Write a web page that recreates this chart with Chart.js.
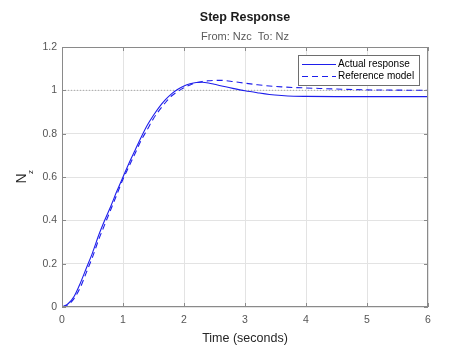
<!DOCTYPE html>
<html>
<head>
<meta charset="utf-8">
<script src="https://cdn.jsdelivr.net/npm/chart.js@4.4.1/dist/chart.umd.min.js"></script>
<style>
html,body{margin:0;padding:0;background:#fff;}
#wrap{width:474px;height:355px;}
</style>
</head>
<body>
<div id="wrap"><canvas id="c" width="474" height="355"></canvas></div>
<script>
// ---- data ----
const timeActual = [0,0.1,0.2,0.3,0.4,0.5,0.6,0.7,0.8,0.9,1.0,1.1,1.2,1.3,1.4,1.5,1.6,1.7,1.8,1.9,2.0,2.1,2.2,2.3,2.4,2.5,2.6,2.8,3.0,3.2,3.4,3.6,3.8,4.0,4.5,5.0,5.5,6.0];
const actualResponse = [0,0.015,0.05,0.11,0.18,0.25,0.33,0.40,0.465,0.535,0.60,0.665,0.725,0.785,0.84,0.885,0.925,0.958,0.985,1.005,1.02,1.03,1.036,1.037,1.034,1.028,1.021,1.009,0.998,0.989,0.981,0.976,0.973,0.972,0.971,0.971,0.971,0.971];
const timeRef = [0,0.1,0.2,0.3,0.4,0.5,0.6,0.7,0.8,0.9,1.0,1.1,1.2,1.3,1.4,1.5,1.6,1.7,1.8,1.9,2.0,2.1,2.2,2.3,2.4,2.5,2.6,2.8,3.0,3.2,3.4,3.6,3.8,4.0,4.5,5.0,5.5,6.0];
const referenceModel = [0,0.01,0.04,0.09,0.16,0.23,0.31,0.38,0.45,0.52,0.59,0.65,0.71,0.77,0.82,0.87,0.91,0.945,0.975,0.995,1.012,1.025,1.035,1.041,1.044,1.046,1.046,1.041,1.033,1.026,1.02,1.016,1.013,1.011,1.006,1.002,1.001,1.0];
const steadyTime = [0,6];
const steadyValue = [1,1];
const xTicks = [0,1,2,3,4,5,6];
const yTicks = [0,0.2,0.4,0.6,0.8,1,1.2];
const seriesNames = ['Actual response','Reference model'];
const titleText = 'Step Response';
const subtitleText = 'From: Nzc  To: Nz';
const xAxisText = 'Time (seconds)';
const yAxisMain = 'N';
const yAxisSub = 'z';

const FONT = "'Liberation Sans', Arial, Helvetica, sans-serif";
const BLUE = 'rgb(30,30,235)';
const FRAME = '#8a8a8a';

const pts = (xs, ys) => xs.map((x,i)=>({x:x,y:ys[i]}));

const decor = {
  id:'decor',
  afterDatasetsDraw(chart){
    const ctx = chart.ctx, a = chart.chartArea;
    const xs = chart.scales.x, ys = chart.scales.y;
    ctx.save();
    // frame
    ctx.strokeStyle = FRAME; ctx.lineWidth = 1;
    ctx.strokeRect(Math.round(a.left)+0.5, Math.round(a.top)+0.5, Math.round(a.right-a.left)-1, Math.round(a.bottom-a.top)-1);
    // inward tick marks
    ctx.beginPath();
    xTicks.forEach(v=>{
      const p = Math.round(xs.getPixelForValue(v))+0.5;
      ctx.moveTo(p,a.bottom); ctx.lineTo(p,a.bottom-4);
      ctx.moveTo(p,a.top); ctx.lineTo(p,a.top+4);
    });
    yTicks.forEach(v=>{
      const p = Math.round(ys.getPixelForValue(v))+0.5;
      ctx.moveTo(a.left,p); ctx.lineTo(a.left+4,p);
      ctx.moveTo(a.right,p); ctx.lineTo(a.right-4,p);
    });
    ctx.stroke();

    // legend
    const lx = 298, ly = 55, lw = 121, lh = 30;
    ctx.fillStyle = '#fff';
    ctx.fillRect(lx+0.5, ly+0.5, lw, lh);
    ctx.strokeStyle = '#6e6e6e';
    ctx.strokeRect(lx+0.5, ly+0.5, lw, lh);
    const rows = [ly+9.5, ly+21.5];
    chart.data.datasets.slice(0,2).forEach((ds,i)=>{
      ctx.strokeStyle = ds.borderColor; ctx.lineWidth = 1;
      ctx.setLineDash(ds.borderDash || []);
      ctx.beginPath(); ctx.moveTo(302, rows[i]); ctx.lineTo(336, rows[i]); ctx.stroke();
      ctx.setLineDash([]);
      ctx.fillStyle = '#000';
      ctx.font = '10px ' + FONT;
      ctx.textAlign = 'left'; ctx.textBaseline = 'middle';
      ctx.fillText(ds.label, 338, rows[i]);
    });

    // titles
    const cx = (a.left + a.right)/2;
    ctx.textAlign = 'center'; ctx.textBaseline = 'middle';
    ctx.fillStyle = '#1a1a1a';
    ctx.font = 'bold 12.5px ' + FONT;
    ctx.fillText(titleText, cx, 18);
    ctx.fillStyle = '#5a5a5a';
    ctx.font = '11px ' + FONT;
    ctx.fillText(subtitleText, cx, 37);
    ctx.fillStyle = '#262626';
    ctx.font = '12.5px ' + FONT;
    ctx.fillText(xAxisText, cx, 339);

    // y label with subscript
    ctx.translate(22.5, 178.5);
    ctx.rotate(-Math.PI/2);
    ctx.fillStyle = '#262626';
    ctx.font = '14px ' + FONT;
    ctx.textAlign = 'center'; ctx.textBaseline = 'middle';
    ctx.fillText(yAxisMain, 0, 0);
    ctx.font = '8px ' + FONT;
    ctx.textAlign = 'left'; ctx.textBaseline = 'alphabetic';
    ctx.fillText(yAxisSub, 4.5, 10.5);
    ctx.restore();
  }
};

new Chart(document.getElementById('c'), {
  type:'line',
  data:{
    datasets:[
      {label:seriesNames[0], data:pts(timeActual, actualResponse), borderColor:BLUE, borderWidth:1.1, pointRadius:0, cubicInterpolationMode:'monotone', fill:false, order:1},
      {label:seriesNames[1], data:pts(timeRef, referenceModel), borderColor:BLUE, borderWidth:1.1, borderDash:[6,4], pointRadius:0, cubicInterpolationMode:'monotone', fill:false, order:2},
      {label:'steady', data:pts(steadyTime, steadyValue), borderColor:'#a8a8a8', borderWidth:1, borderDash:[1,2], pointRadius:0, fill:false, order:3}
    ]
  },
  options:{
    responsive:false,
    animation:false,
    events:[],
    layout:{padding:{top:47, right:46, bottom:0, left:0}},
    plugins:{legend:{display:false}, tooltip:{enabled:false}, title:{display:false}},
    scales:{
      x:{
        type:'linear', min:0, max:6,
        afterFit(s){ s.height = 48; },
        afterBuildTicks(s){ s.ticks = xTicks.map(v=>({value:v})); },
        grid:{color:'#e3e3e3', drawTicks:false, lineWidth:1},
        border:{display:false},
        ticks:{color:'#555', font:{family:FONT, size:10.5}, padding:7, maxRotation:0}
      },
      y:{
        type:'linear', min:0, max:1.2,
        afterFit(s){ s.width = 62; },
        afterBuildTicks(s){ s.ticks = yTicks.map(v=>({value:v})); },
        grid:{color:'#e3e3e3', drawTicks:false, lineWidth:1},
        border:{display:false},
        ticks:{color:'#555', font:{family:FONT, size:10.5}, padding:5, callback:(v)=>String(Math.round(v*10)/10)}
      }
    }
  },
  plugins:[decor]
});
</script>
</body>
</html>
